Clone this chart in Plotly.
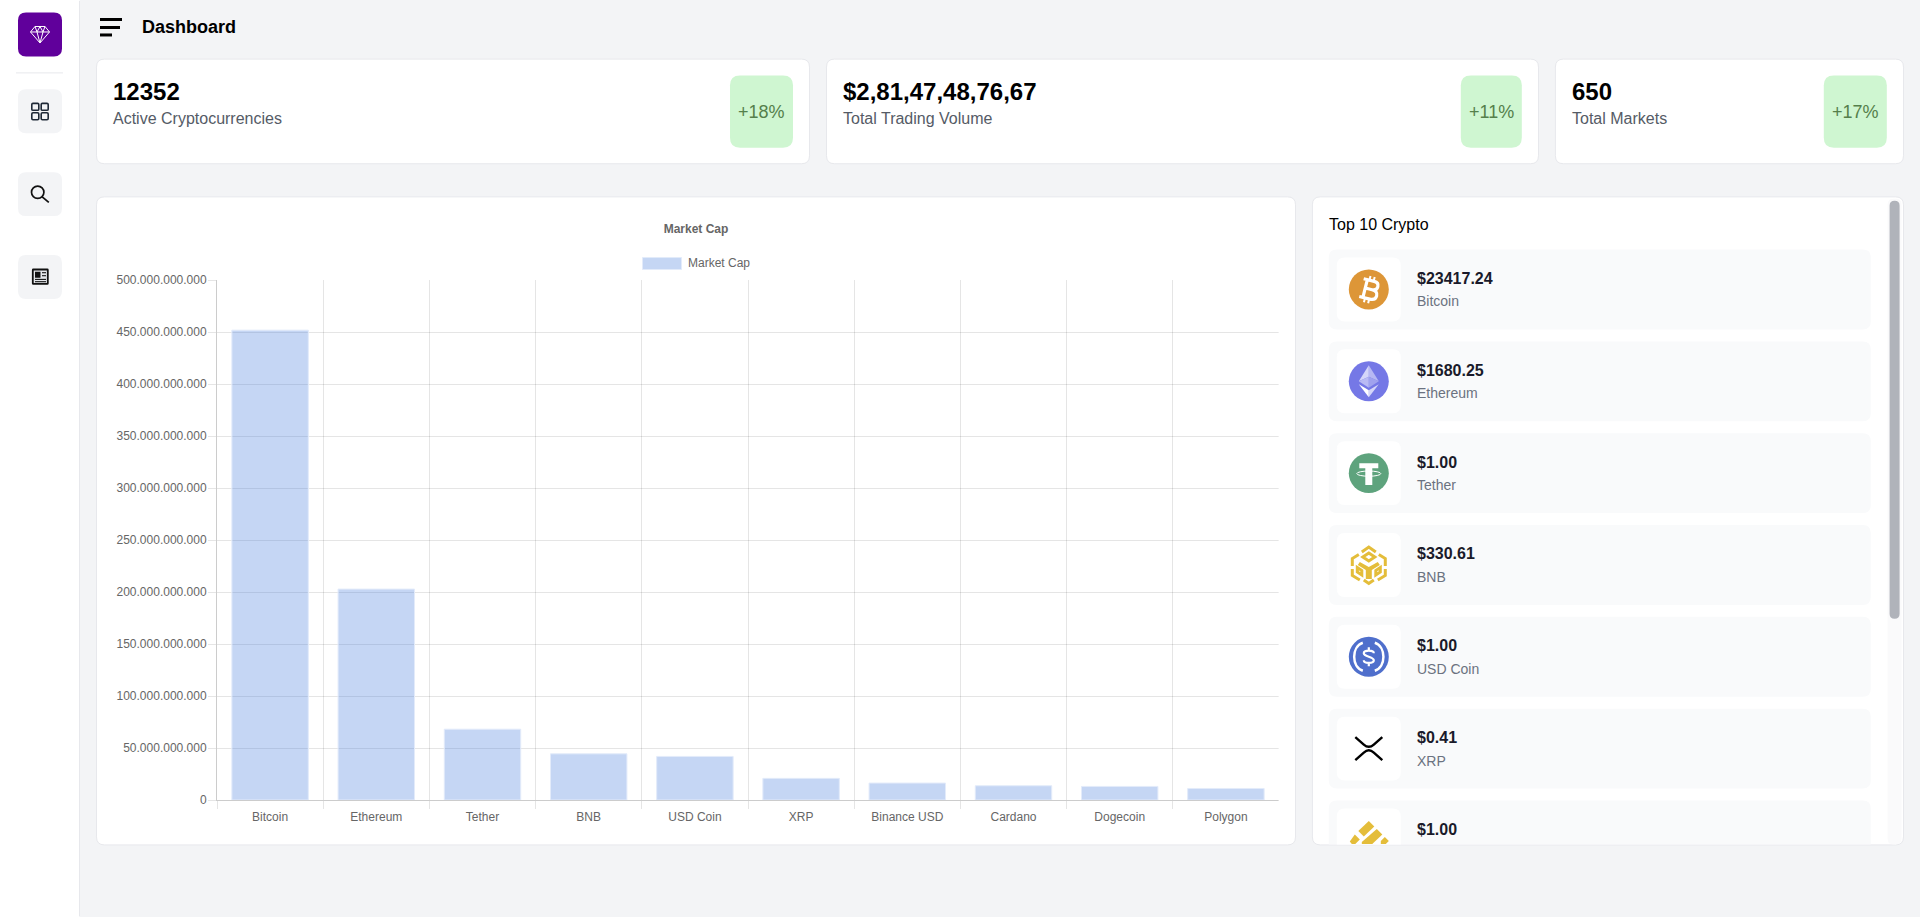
import math
import plotly.graph_objects as go

# chart data
coins = ["Bitcoin", "Ethereum", "Tether", "BNB", "USD Coin", "XRP",
         "Binance USD", "Cardano", "Dogecoin", "Polygon"]
market_caps = [451.8e9, 202.8e9, 68.1e9, 44.4e9, 41.9e9, 20.8e9,
               16.3e9, 13.7e9, 13.05e9, 11.1e9]

# stat cards
stat_values = ["12352", "$2,81,47,48,76,67", "650"]
stat_labels = ["Active Cryptocurrencies", "Total Trading Volume", "Total Markets"]
stat_changes = ["+18%", "+11%", "+17%"]

# top 10 list, only the visible rows
list_prices = ["$23417.24", "$1680.25", "$1.00", "$330.61", "$1.00", "$0.41", "$1.00"]
list_names = ["Bitcoin", "Ethereum", "Tether", "BNB", "USD Coin", "XRP"]

PAGE_W, PAGE_H = 1920, 917
PL, PR, PT, PB = 217, 1279, 279.5, 800.5

shapes = []
notes = []


def fx(px):
    return (px - PL) / (PR - PL)


def fy(py):
    return (PB - py) / (PB - PT)


def to_path(cmds, ox=0, oy=0, rot=0, scale=1):
    c, s = math.cos(math.radians(rot)), math.sin(math.radians(rot))
    out = []
    for cmd in cmds:
        nums = cmd[1:]
        pts = []
        for i in range(0, len(nums), 2):
            x = (nums[i] * c - nums[i + 1] * s) * scale + ox
            y = (nums[i] * s + nums[i + 1] * c) * scale + oy
            pts.append(f"{fx(x):.5f},{fy(y):.5f}")
        out.append(cmd[0] + " ".join(pts))
    return " ".join(out)


def fill_path(cmds, ox, oy, color, rot=0):
    shapes.append(dict(type="path", xref="paper", yref="paper", layer="below",
                       path=to_path(cmds, ox, oy, rot), fillcolor=color,
                       line=dict(width=0)))


def stroke(cmds, ox, oy, color, w=1.5, rot=0, scale=1):
    shapes.append(dict(type="path", xref="paper", yref="paper", layer="below",
                       path=to_path(cmds, ox, oy, rot, scale), fillcolor="rgba(0,0,0,0)",
                       line=dict(color=color, width=w)))


def rrect(x0, y0, x1, y1, r, fill, line=None, lw=1, square_bottom=False):
    rb = 0 if square_bottom else r
    cmds = [("M", x0 + r, y0), ("L", x1 - r, y0), ("Q", x1, y0, x1, y0 + r),
            ("L", x1, y1 - rb), ("Q", x1, y1, x1 - rb, y1), ("L", x0 + rb, y1),
            ("Q", x0, y1, x0, y1 - rb), ("L", x0, y0 + r), ("Q", x0, y0, x0 + r, y0), ("Z",)]
    shapes.append(dict(type="path", xref="paper", yref="paper", layer="below",
                       path=to_path(cmds), fillcolor=fill,
                       line=dict(color=line, width=lw) if line else dict(width=0)))


def disc(cx, cy, r, color):
    shapes.append(dict(type="circle", xref="paper", yref="paper", layer="below",
                       x0=fx(cx - r), x1=fx(cx + r), y0=fy(cy + r), y1=fy(cy - r),
                       fillcolor=color, line=dict(width=0)))


def ring(cx, cy, rx, ry, color, w=1.5):
    shapes.append(dict(type="circle", xref="paper", yref="paper", layer="below",
                       x0=fx(cx - rx), x1=fx(cx + rx), y0=fy(cy + ry), y1=fy(cy - ry),
                       fillcolor="rgba(0,0,0,0)", line=dict(color=color, width=w)))


def text(x, y, s, size, color, weight=400, anchor="left"):
    notes.append(dict(xref="paper", yref="paper", x=fx(x), y=fy(y), text=s, showarrow=False,
                      xanchor=anchor, yanchor="middle", borderpad=0, borderwidth=0,
                      font=dict(size=size, color=color, weight=weight)))


def poly(pts, ox, oy, color):
    cmds = [("M", *pts[0])] + [("L", *p) for p in pts[1:]] + [("Z",)]
    fill_path(cmds, ox, oy, color)


# page chrome
BG = "#f3f4f6"
CARD_LINE = "#e7e8ec"
rrect(-4, -4, 79.5, PAGE_H + 4, 0.01, "#ffffff")
stroke([("M", 79.5, 0), ("L", 79.5, PAGE_H)], 0, 0, CARD_LINE, 1)
rrect(18, 11.5, 62, 55.5, 8, "#60009b")
stroke([("M", 16, 72), ("L", 63, 72)], 0, 0, CARD_LINE, 1)
for y0 in (88.5, 171.5, 254.5):
    rrect(18, y0, 62, y0 + 44, 8, BG)

# logo diamond
dia = [("M", -5, -8), ("L", 5, -8), ("L", 9.5, -2.5), ("L", 0, 8.5), ("L", -9.5, -2.5), ("Z",),
       ("M", -9.5, -2.5), ("L", 9.5, -2.5),
       ("M", -5, -8), ("L", -3, -2.5), ("L", 0, 8.5), ("L", 3, -2.5), ("L", 5, -8),
       ("M", -3, -2.5), ("L", 0, -8), ("L", 3, -2.5)]
stroke(dia, 40, 33.5, "#ffffff", 1)

# nav icons
for qx, qy in ((31.8, 102.5), (41.2, 102.5), (31.8, 111.9), (41.2, 111.9)):
    rrect(qx, qy, qx + 7, qy + 7, 1.2, "rgba(0,0,0,0)", "#1f2937", 1.6)
ring(37.7, 191.6, 6.2, 6.2, "#111111", 1.7)
stroke([("M", 42.2, 196.2), ("L", 48.8, 201.7)], 0, 0, "#111111", 1.8)
rrect(32.8, 269, 47.8, 283.4, 0.5, "#e5e7eb", "#111111", 1.8)
rrect(35, 271.2, 40.5, 277.2, 0.1, "#111111")
for ly, lx0, lx1 in ((272.2, 42, 46), (275.2, 42, 46), (278.9, 35, 46), (281.2, 35, 46)):
    stroke([("M", lx0, ly), ("L", lx1, ly)], 0, 0, "#111111", 1.1)

# hamburger + heading
stroke([("M", 100, 18.5), ("L", 122, 18.5)], 0, 0, "#000000", 3)
stroke([("M", 100, 26.5), ("L", 120, 26.5)], 0, 0, "#000000", 3)
stroke([("M", 100, 34), ("L", 112, 34)], 0, 0, "#000000", 3)
text(141.5, 26, "Dashboard", 18, "#000000", 700)

# stat cards
card_x = [(96.5, 809.5), (826.5, 1538.5), (1555.4, 1903.5)]
badge_x = [(730, 793), (1460.8, 1521.8), (1823.8, 1886.8)]
text_x = [112.5, 842.5, 1572]
for (cx0, cx1), (bx0, bx1), tx, val, lab, chg in zip(card_x, badge_x, text_x, stat_values, stat_labels, stat_changes):
    rrect(cx0, 58.2, cx1, 163, 8, "#ffffff", CARD_LINE)
    text(tx, 91, val, 24, "#000000", 700)
    text(tx, 118, lab, 16, "#555b66")
    rrect(bx0, 74.5, bx1, 147, 10, "#cff6d1")
    text((bx0 + bx1) / 2, 111, chg, 18, "#557f4b", anchor="center")

# chart card
rrect(96.5, 196.2, 1295.5, 845.5, 8, "#ffffff", CARD_LINE)

# legend swatch + label
BAR_FILL = "rgba(62,118,219,0.30)"
BAR_EDGE = "#e3ebfa"
rrect(642.5, 257, 681.5, 269, 0.01, BAR_FILL, BAR_EDGE)
text(688, 262.5, "Market Cap", 12, "#666666")

# top 10 card
rrect(1312.4, 196.2, 1903.5, 845.5, 8, "#ffffff", CARD_LINE)
text(1328.8, 224, "Top 10 Crypto", 16, "#000000")
rrect(1887.6, 198, 1901.6, 845, 6, "#fafafb")
rrect(1889.6, 200, 1899.6, 619, 5, "#b0b3ba")

row_tops = [249 + 92 * i for i in range(len(list_prices))]
for i, top in enumerate(row_tops):
    clipped = top + 80 > 845
    rrect(1328.8, top, 1870.8, min(top + 80, 845), 8, "#f9fafb", square_bottom=clipped)
    rrect(1336.8, top + 8, 1400.8, min(top + 72, 845), 8, "#ffffff", square_bottom=clipped)
    text(1416.8, top + 29, list_prices[i], 16, "#1a1a2a", 700)
    if i < len(list_names):
        text(1416.8, top + 52, list_names[i], 14, "#6b7280")

ICON_X = 1368.8
cy = [t + 40 for t in row_tops]

# bitcoin
disc(ICON_X, cy[0], 20, "#dd9637")
btc = [("M", -7, -8.5), ("L", 3, -8.5), ("Q", 7.5, -8.5, 7.5, -4.5), ("Q", 7.5, -0.5, 3, -0.5),
       ("L", -3.5, -0.5), ("M", 3, -0.5), ("Q", 8.5, -0.5, 8.5, 4), ("Q", 8.5, 8.5, 3, 8.5),
       ("L", -7, 8.5), ("M", -3.5, -8.5), ("L", -3.5, 8.5)]
stroke(btc, ICON_X, cy[0], "#ffffff", 3.2, rot=14, scale=1.08)
ticks = [("M", -1.5, -12.5), ("L", -1.5, -9), ("M", 2.5, -12.5), ("L", 2.5, -9),
         ("M", -1.5, 9), ("L", -1.5, 12.5), ("M", 2.5, 9), ("L", 2.5, 12.5)]
stroke(ticks, ICON_X, cy[0], "#ffffff", 2, rot=14, scale=1.08)

# ethereum
disc(ICON_X, cy[1], 20, "#7578e6")
poly([(0, -16), (-10, 0), (0, -4.5)], ICON_X, cy[1], "#d5d6f9")
poly([(0, -16), (10, 0), (0, -4.5)], ICON_X, cy[1], "#b7b8f3")
poly([(-10, 0), (0, -4.5), (0, 6.5)], ICON_X, cy[1], "#b9baf4")
poly([(10, 0), (0, -4.5), (0, 6.5)], ICON_X, cy[1], "#a0a2ee")
poly([(-10, 3), (0, 9), (0, 16)], ICON_X, cy[1], "#ffffff")
poly([(10, 3), (0, 9), (0, 16)], ICON_X, cy[1], "#d5d6f9")

# tether
disc(ICON_X, cy[2], 20, "#5ea37d")
poly([(-9.5, -10), (9.5, -10), (9.5, -5), (3.5, -5), (3.5, 12), (-3.5, 12), (-3.5, -5), (-9.5, -5)],
     ICON_X, cy[2], "#ffffff")
ring(ICON_X, cy[2] + 0.5, 12, 2.6, "#ffffff", 1)

# bnb
GOLD = "#e4bd3a"
for cmds in ([("M", -7, -13), ("L", 0, -18), ("L", 7, -13)],
             [("M", 0, -12), ("L", 6, -8), ("L", 0, -4), ("L", -6, -8), ("Z",)],
             [("M", -10, -10.5), ("L", -16.5, -6.5), ("L", -16.5, 1)],
             [("M", 10, -10.5), ("L", 16.5, -6.5), ("L", 16.5, 1)],
             [("M", -16.5, 4), ("L", -16.5, 10.5), ("L", -9, 15)],
             [("M", 16.5, 4), ("L", 16.5, 10.5), ("L", 9, 15)],
             [("M", -5, 15), ("L", 0, 18.5), ("L", 5, 15)],
             [("M", -11.5, 2.5), ("L", -7, 5.5), ("L", -7, 10), ("L", -11.5, 7), ("Z",)],
             [("M", 11.5, 2.5), ("L", 7, 5.5), ("L", 7, 10), ("L", 11.5, 7), ("Z",)]):
    stroke(cmds, ICON_X, cy[3], GOLD, 3)
poly([(-9, -3), (0, 2), (9, -3), (11, 0), (3, 5), (3, 14), (-3, 14), (-3, 5), (-11, 0)],
     ICON_X, cy[3], GOLD)

# usd coin
disc(ICON_X, cy[4], 20, "#4f6fcc")
stroke([("M", -6, -14), ("C", -17.5, -10, -17.5, 10, -6, 14)], ICON_X, cy[4], "#ffffff", 2.5)
stroke([("M", 6, -14), ("C", 17.5, -10, 17.5, 10, 6, 14)], ICON_X, cy[4], "#ffffff", 2.5)
stroke([("M", 5, -3.5), ("C", 5, -7, -5, -7, -5, -3.5), ("C", -5, 0, 5, 0, 5, 3.5),
        ("C", 5, 7, -5, 7, -5, 3.5), ("M", 0, -9.5), ("L", 0, -6), ("M", 0, 6), ("L", 0, 9.5)],
       ICON_X, cy[4], "#ffffff", 2.2)

# xrp
stroke([("M", -13.5, -11.5), ("L", -5, -4), ("Q", 0, 0.5, 5, -4), ("L", 13.5, -11.5)],
       ICON_X, cy[5], "#000000", 2.4)
stroke([("M", -13.5, 11.5), ("L", -5, 4), ("Q", 0, -0.5, 5, 4), ("L", 13.5, 11.5)],
       ICON_X, cy[5], "#000000", 2.4)

# binance usd, cut off by the card edge
poly([(0, -19.5), (5.5, -14), (-5, -4), (-10.5, -9.5)], ICON_X, cy[6], GOLD)
poly([(8, -11.5), (13.5, -6), (3.5, 3.5), (-7, 3.5), (-7, 1.5)], ICON_X, cy[6], GOLD)
poly([(16, -3.5), (20, 0.5), (17, 3.5), (12, 3.5), (12, 0.5)], ICON_X, cy[6], GOLD)
poly([(-14, -6), (-9, -1), (-13.5, 3.5), (-17, 3.5), (-19, 1)], ICON_X, cy[6], GOLD)

# the reference has no grid line on the far right of the plot
end_cover = dict(type="line", xref="paper", yref="paper", layer="above", x0=1.0008, x1=1.0008,
                 y0=fy(PB + 9), y1=fy(PT - 1), line=dict(color="#ffffff", width=2.5))

fig = go.Figure(go.Bar(x=coins, y=market_caps, name="Market Cap", showlegend=False,
                       marker=dict(color=BAR_FILL, line=dict(color=BAR_EDGE, width=1))))

GRID = "rgba(0,0,0,0.1)"
fig.update_layout(
    width=PAGE_W, height=PAGE_H, autosize=False,
    margin=dict(l=PL, r=PAGE_W - PR, t=PT, b=PAGE_H - PB, pad=0),
    paper_bgcolor=BG, plot_bgcolor="rgba(0,0,0,0)",
    font=dict(family="Liberation Sans, Arial, sans-serif", size=12, color="#666666"),
    separators=",.", bargap=0.28,
    title=dict(text="Market Cap", xref="container", yref="container", x=696 / PAGE_W,
               y=1 - 229 / PAGE_H, xanchor="center", yanchor="middle",
               font=dict(size=12, color="#666666", weight=700)),
    shapes=shapes + [end_cover], annotations=notes,
)
fig.update_xaxes(type="category", tickson="boundaries", ticks="outside", ticklen=8, tickwidth=1,
                 tickcolor=GRID, showgrid=True, gridcolor=GRID, gridwidth=1, showline=True,
                 linecolor="#cccccc", linewidth=1, tickfont=dict(size=12, color="#666666"),
                 tickangle=0, ticklabelstandoff=6, fixedrange=True)
fig.update_yaxes(range=[0, 500e9], dtick=50e9, tickformat=",d", ticks="outside", ticklen=8, tickwidth=1,
                 tickcolor=GRID, showgrid=True, gridcolor=GRID, gridwidth=1, showline=True,
                 linecolor="#cccccc", linewidth=1, zeroline=False, tickfont=dict(size=12, color="#666666"),
                 ticklabelstandoff=-1, fixedrange=True)

fig.write_html("out.html", config={"displayModeBar": False},
               post_script="document.body.style.margin='0';document.body.style.overflow='hidden';")
